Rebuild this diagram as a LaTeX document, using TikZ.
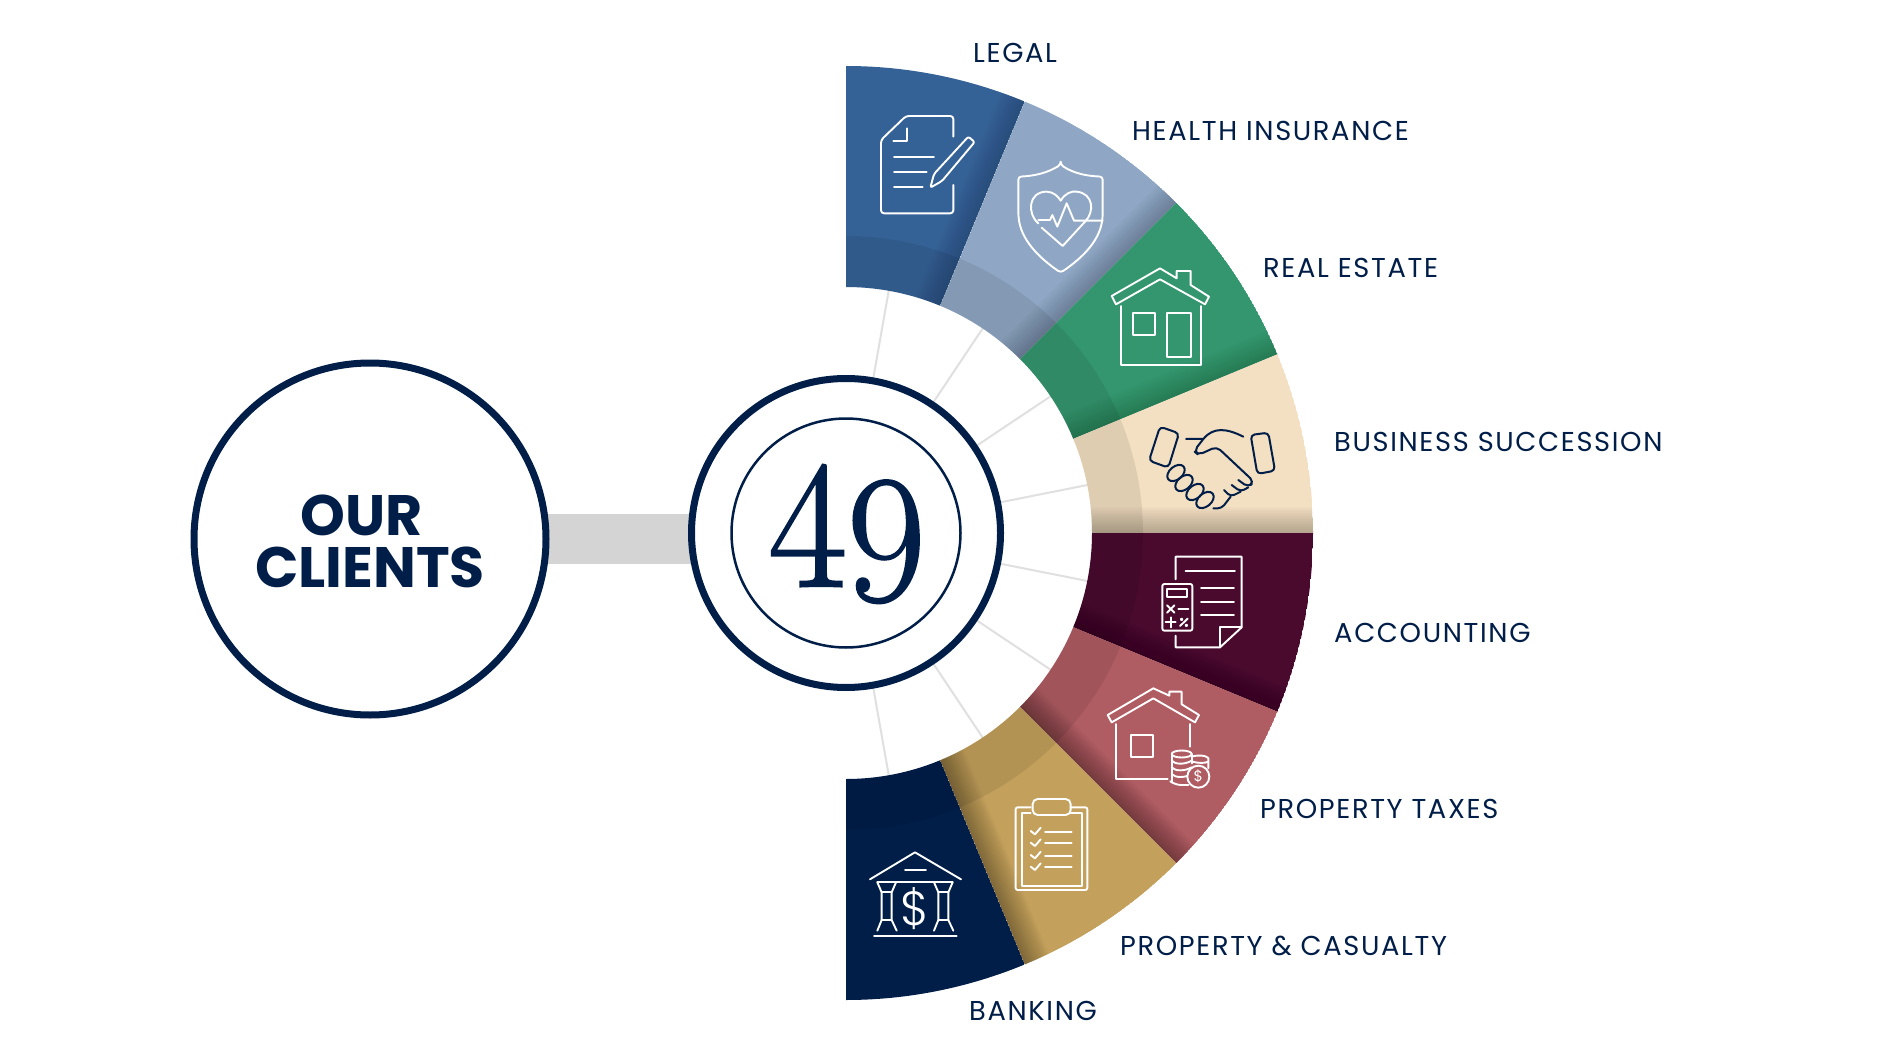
\documentclass[tikz,border=0pt]{standalone}
\usepackage{fontspec}
\usetikzlibrary{backgrounds}
\newfontfamily\labelfont{Poppins}
\newfontfamily\tagfont[LetterSpace=6]{Poppins}
\newfontfamily\thinfont{Poppins Light}
\newfontfamily\logofont[FakeBold=1.2]{Latin Modern Roman}
\definecolor{navy}{HTML}{011E49}
\definecolor{legalc}{HTML}{356296}
\definecolor{healthc}{HTML}{8FA7C4}
\definecolor{estatec}{HTML}{33966E}
\definecolor{succc}{HTML}{F3DFC1}
\definecolor{acctc}{HTML}{490A2E}
\definecolor{taxc}{HTML}{AF5C62}
\definecolor{casc}{HTML}{C3A05B}
\definecolor{bankc}{HTML}{011E49}
\definecolor{barc}{HTML}{D4D4D4}
\definecolor{spokec}{HTML}{E0E0E0}
\newcommand{\tagsize}{\fontsize{27.3}{30}\selectfont}
\newcommand{\sectorpath}[2]{(#1:246pt) arc[start angle=#1,end angle=#2,radius=246pt] -- (#2:467pt) arc[start angle=#2,end angle=#1,radius=467pt] -- cycle}
\tikzset{
  tag/.style={anchor=west,inner sep=0pt,text=navy,font=\tagfont\tagsize},
  bigring/.style={circle,draw=navy,line width=7pt,fill=white,inner sep=0pt},
  icon/.style={draw=white,line width=1.9pt,line join=round,line cap=round},
  darkicon/.style={draw=navy,line width=2pt,line join=round,line cap=round},
  upperzoom/.style={shift={(820,50)},x=.33333pt,y=-.33333pt},
  lowerzoom/.style={shift={(820,520)},x=.33333pt,y=-.33333pt},
}
\begin{document}
\begin{tikzpicture}[x=1pt,y=-1pt]
  \useasboundingbox (0,0) rectangle (1883,1062);
  \begin{scope}[shift={(846,533)},y=1pt]
    \foreach \a/\c/\o in {90/legalc/.012,67.5/healthc/.015,45/estatec/.011,22.5/succc/.02,0/acctc/.014,-22.5/taxc/.028,-45/casc/.028,-67.5/bankc/0}{
      \pgfmathsetmacro\b{\a-22.5}
      \begin{scope}
        \clip \sectorpath{\a}{\b};
        \fill[\c] \sectorpath{\a}{\b};
        \foreach \j in {2,4,...,26}{
          \fill[black,opacity=\o,rotate=\b] (240,0) rectangle (480,\j);
        }
        \fill[black,opacity=.08] (\a:246pt) arc[start angle=\a,end angle=\b,radius=246pt] -- (\b:297pt) arc[start angle=\b,end angle=\a,radius=297pt] -- cycle;
      \end{scope}
    }
  \end{scope}

  \node[bigring,minimum size=352pt] (clients) at (370,539) {};
  \node[align=center,inner sep=0pt,font=\labelfont\bfseries\fontsize{57}{52}\selectfont,text=navy] (clienttext) at (370,541.5) {OUR\hspace*{16pt}\\CLIENTS};
  \node[bigring,minimum size=309pt] (ring) at (846,533) {};
  \node[circle,draw=navy,line width=2.5pt,minimum size=229pt,inner sep=0pt] (inner) at (ring.center) {};
  \node[text=navy,inner sep=0pt,transform shape,xscale=.94] (logo) at (847,534) {\logofont\fontsize{182}{182}\selectfont 4\raisebox{-14pt}{9}};

  \begin{scope}[on background layer]
    \fill[white] (0,0) rectangle (1883,1062);
    \draw[barc,line width=50pt] (clients.center) -- (clients.center -| ring.center);
  \end{scope}

  \foreach \a [count=\i] in {80,56.25,33.75,11.25,-11.25,-33.75,-56.25,-80}{
    \begin{scope}[shift={(846,533)},y=1pt]
      \coordinate (spoke\i) at (\a:248pt);
    \end{scope}
    \begin{scope}[on background layer]
      \draw[spokec,line width=2pt] (ring.center) -- (spoke\i);
    \end{scope}
  }

  \node[tag] (legal) at (973,52.5) {LEGAL};
  \node[tag] (health) at (1132,130.5) {HEALTH INSURANCE};
  \node[tag] (estate) at (1263,267.5) {REAL ESTATE};
  \node[tag] (succession) at (1334,441.5) {BUSINESS SUCCESSION};
  \node[tag] (accounting) at (1334,632.5) {ACCOUNTING};
  \node[tag] (taxes) at (1260,808.5) {PROPERTY TAXES};
  \node[tag] (casualty) at (1120,945.5) {PROPERTY \& CASUALTY};
  \node[tag] (banking) at (969,1010.5) {BANKING};

  \begin{scope}[upperzoom,icon]
    \draw[rounded corners=3pt] (400,260) -- (400,198) -- (258,198) -- (183,270) -- (183,490) -- (400,490) -- (400,405);
    \draw (262,235) -- (262,273) -- (220,273);
    \draw (222,320) -- (342,320);
    \draw (222,367) -- (320,367);
    \draw (222,412) -- (308,412);
    \draw[rounded corners=2pt] (331,413) -- (342,372) -- (445,260) -- (464,276) -- (366,393) -- cycle;
    \draw[rounded corners=3pt] (722,344) .. controls (680,370) and (640,378) .. (595,380) -- (595,490) .. controls (600,570) and (660,625) .. (722,668) .. controls (785,625) and (845,570) .. (848,490) -- (848,380) .. controls (800,378) and (760,370) .. (722,344) -- cycle;
    \draw (655,520) .. controls (620,490) and (625,425) .. (680,425) .. controls (700,425) and (715,440) .. (722,452) .. controls (735,430) and (755,422) .. (770,425) .. controls (820,430) and (825,485) .. (795,515) -- (728,588) -- (665,533);
    \draw (655,510) -- (690,510) -- (697,495) -- (712,530) -- (740,460) -- (762,512) -- (848,512);
    \draw (1020,655) -- (875,738) -- (888,763) -- (1020,688) -- (1155,763) -- (1167,740) -- (1112,705) -- (1112,663) -- (1070,663) -- (1070,685) -- cycle;
    \draw (903,768) -- (903,945) -- (1142,945) -- (1142,768);
    \draw (940,790) rectangle (1005,855);
    \draw (1042,790) rectangle (1112,922);
  \end{scope}

  \begin{scope}[upperzoom,darkicon]
    \draw[rounded corners=4pt] (1020,1130) -- (1077,1150) -- (1045,1253) -- (987,1232) -- cycle;
    \draw[rounded corners=4pt] (1292,1155) -- (1345,1148) -- (1365,1262) -- (1312,1272) -- cycle;
    \draw (1098,1167) -- (1150,1167) .. controls (1180,1130) and (1220,1135) .. (1270,1160);
    \draw[rounded corners=5pt] (1150,1167) -- (1122,1203) -- (1135,1215) -- (1190,1190) -- (1302,1295) -- (1285,1312) -- (1255,1290);
    \draw[rounded corners=4pt] (1285,1312) -- (1262,1325) -- (1235,1305);
    \draw[rounded corners=4pt] (1262,1325) -- (1232,1340) -- (1212,1320);
    \draw[rounded corners=4pt] (1232,1340) -- (1205,1375) -- (1180,1375);
    \foreach \x/\y in {1068/1269,1092/1299,1125/1326,1155/1350}{
      \draw (\x,\y) ellipse[x radius=10pt,y radius=6.5pt,rotate=40];
    }
  \end{scope}

  \begin{scope}[lowerzoom,icon]
    \draw (1067,178) -- (1067,110) -- (1265,110) -- (1265,322) -- (1200,382) -- (1067,382) -- (1067,347);
    \draw (1265,322) -- (1200,322) -- (1200,382);
    \draw (1097,152) -- (1245,152);
    \foreach \y in {205,245,285}{
      \draw (1143,\y) -- (1242,\y);
    }
    \draw[rounded corners=2pt] (1027,192) rectangle (1117,332);
    \draw (1042,207) rectangle (1102,230);
    \draw (1041,256) -- (1063,278);
    \draw (1041,278) -- (1063,256);
    \draw (1075,267) -- (1105,267);
    \draw (1037,307) -- (1067,307);
    \draw (1052,292) -- (1052,322);
    \draw (1080,318) -- (1103,296);
    \draw (1085,298) circle[radius=.8pt];
    \draw (1099,316) circle[radius=.8pt];

    \draw (1000,505) -- (863,585) -- (875,607) -- (1000,535) -- (1125,607) -- (1137,585) -- (1085,553) -- (1085,515) -- (1048,515) -- (1048,527) -- cycle;
    \draw (888,612) -- (888,777) -- (1043,777);
    \draw (1109,612) -- (1109,680);
    \draw (932,645) rectangle (998,710);
    \draw (1055,702) -- (1055,787);
    \draw[rounded corners=6pt] (1055,787) -- (1065,795) -- (1105,795);
    \draw (1085,702) ellipse[x radius=10pt,y radius=3.5pt];
    \foreach \y in {722,742,762}{
      \draw (1055,\y) .. controls (1065,\y+12) and (1095,\y+12) .. (1115,\y);
    }
    \draw (1115,702) -- (1115,730);
    \draw (1118,709) .. controls (1135,705) and (1155,705) .. (1165,714) -- (1165,745);
    \draw (1118,725) .. controls (1135,730) and (1155,730) .. (1165,725);
    \draw[fill=taxc] (1135,770) circle[radius=11pt];
    \node[inner sep=0pt,text=white,font=\labelfont\fontsize{15}{15}\selectfont] (taxcoin) at (1135,770) {\$};

    \draw[rounded corners=2pt] (632,862) -- (587,862) -- (587,1110) -- (802,1110) -- (802,862) -- (752,862);
    \draw (632,880) -- (605,880) -- (605,1097) -- (785,1097) -- (785,880) -- (752,880);
    \draw[rounded corners=5pt] (638,885) -- (638,837) -- (752,837) -- (752,885) -- cycle;
    \foreach \y in {933,968,1005,1040}{
      \draw (632,\y) -- (645,\y+10) -- (662,\y-10);
      \draw (675,\y+2) -- (755,\y+2);
    }

    \draw (150,1078) -- (285,997) -- (423,1078);
    \draw (172,1087) -- (398,1087);
    \draw (255,1050) -- (318,1050);
    \draw (172,1087) -- (185,1117) -- (185,1200) -- (172,1232);
    \draw (228,1087) -- (215,1117) -- (215,1200) -- (230,1232);
    \draw (342,1087) -- (355,1117) -- (355,1200) -- (342,1232);
    \draw (398,1087) -- (385,1117) -- (385,1200) -- (400,1232);
    \draw (185,1117) -- (215,1117);
    \draw (355,1117) -- (385,1117);
    \draw (185,1200) -- (215,1200);
    \draw (355,1200) -- (385,1200);
    \draw[line width=2pt] (162,1248) -- (410,1248);
    \node[inner sep=0pt,text=white,font=\thinfont\fontsize{48}{48}\selectfont] (bankdollar) at (285,1165) {\$};
  \end{scope}
\end{tikzpicture}
\end{document}
